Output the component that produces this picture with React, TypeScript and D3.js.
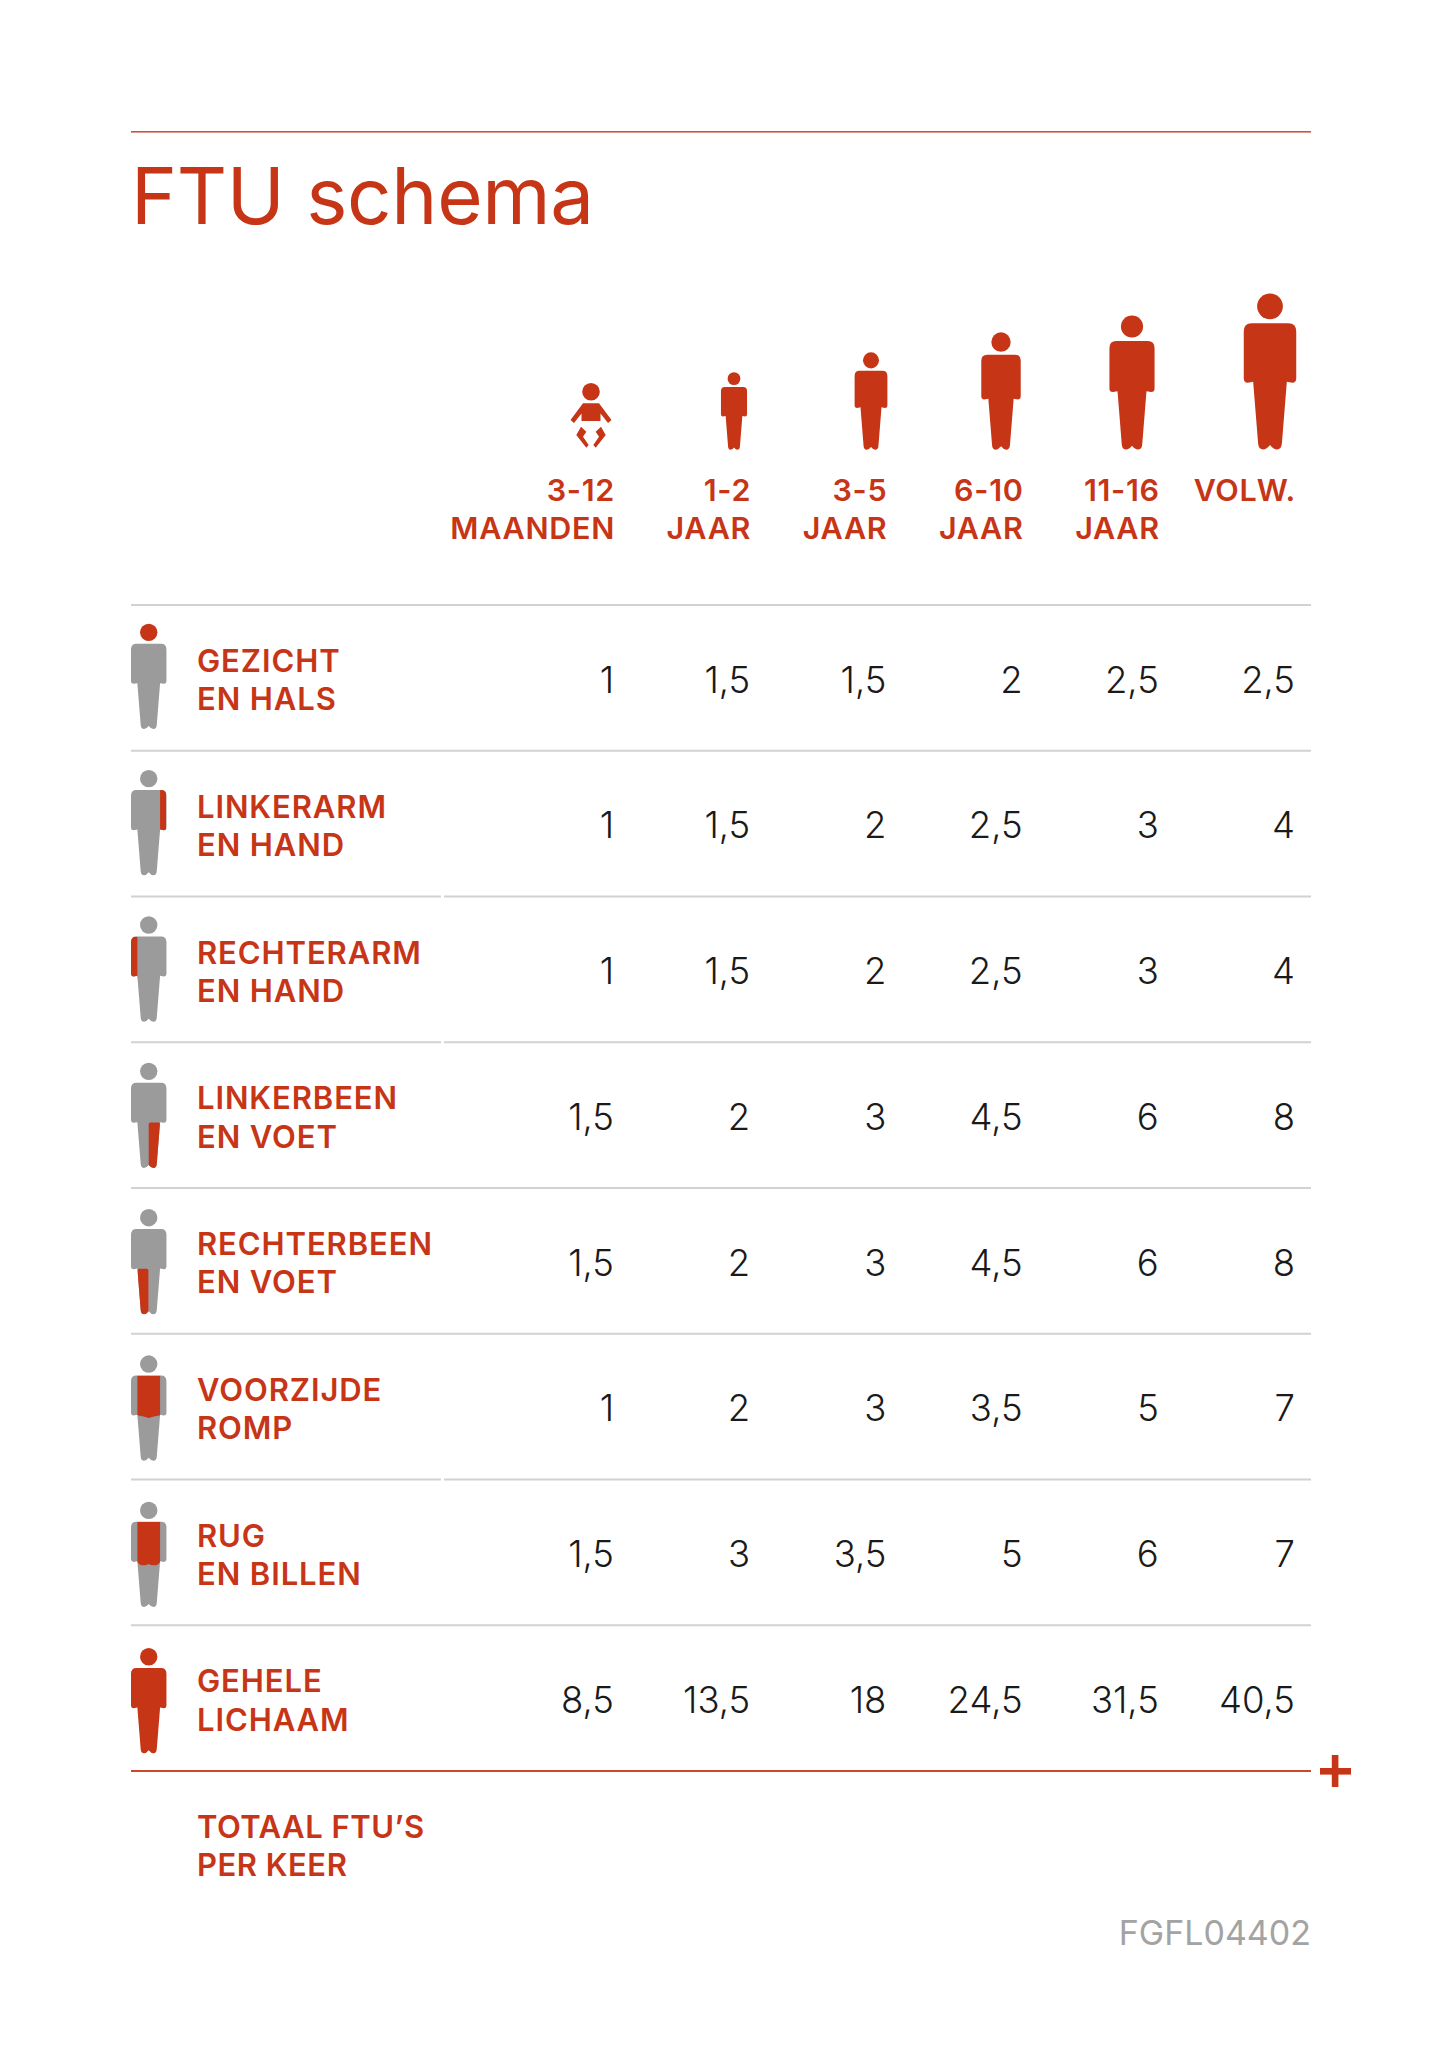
import * as d3 from "d3"

const RED = "#c73517"
const GREY = "#9b9b9b"
const RULE = "#d2d2d2"
const FONT = "Inter, 'Noto Sans', sans-serif"

const title = "FTU schema"
const code = "FGFL04402"
const ageLines = [["3-12", "MAANDEN"], ["1-2", "JAAR"], ["3-5", "JAAR"], ["6-10", "JAAR"], ["11-16", "JAAR"], ["VOLW."]]
const rowLines = [
  ["GEZICHT", "EN HALS"],
  ["LINKERARM", "EN HAND"],
  ["RECHTERARM", "EN HAND"],
  ["LINKERBEEN", "EN VOET"],
  ["RECHTERBEEN", "EN VOET"],
  ["VOORZIJDE", "ROMP"],
  ["RUG", "EN BILLEN"],
  ["GEHELE", "LICHAAM"],
]
const totalLines = ["TOTAAL FTU’S", "PER KEER"]
const gezicht = [1, 1.5, 1.5, 2, 2.5, 2.5]
const linkerarm = [1, 1.5, 2, 2.5, 3, 4]
const rechterarm = [1, 1.5, 2, 2.5, 3, 4]
const linkerbeen = [1.5, 2, 3, 4.5, 6, 8]
const rechterbeen = [1.5, 2, 3, 4.5, 6, 8]
const voorzijde = [1, 2, 3, 3.5, 5, 7]
const rug = [1.5, 3, 3.5, 5, 6, 7]
const gehele = [8.5, 13.5, 18, 24.5, 31.5, 40.5]
const rowValues = [gezicht, linkerarm, rechterarm, linkerbeen, rechterbeen, voorzijde, rug, gehele]
const highlights = ["head", "armR", "armL", "legR", "legL", "front", "back", "all"]

// figure drawn in a 106 x 317 box, scaled per use
const BODY =
  "M16,61 L90,61 Q106,61 106,78 L106,172 Q106,181 98,181 L87,179 L77,304 Q76,316 67,316 Q60,316 53,307 Q46,316 39,316 Q30,316 29,304 L19,179 L8,181 Q0,181 0,172 L0,78 Q0,61 16,61 Z"
const FRONT = "M19,61 L87,61 L87,180 Q70,183 60,186 Q53,190 46,186 Q36,183 19,180 Z"
const BACK = "M19,61 L87,61 L87,181 Q80,192 68,191 Q58,191 53,187 Q48,191 38,191 Q26,192 19,181 Z"

const BABY_ARMS = "M-8,403.3 L8,403.3 L20.5,420 L17,423 L9.5,413.5 L9.5,421 L-9.5,421 L-9.5,413.5 L-17,423 L-20.5,420 Z"
const BABY_LEG = "M-10,426.7 L-4.7,431.7 L-8,436.7 L-2.3,445 L-4.7,447.7 L-14.7,435 Z"

const x = d3.scalePoint<number>().domain(d3.range(ageLines.length)).range([614, 1295])
const rowY = d3.scaleBand<number>().domain(d3.range(rowLines.length)).range([605, 1771])
const iconY = d3.scalePoint<number>().domain(d3.range(rowLines.length)).range([623.3, 1647.7])
const unit = d3.scaleLinear().domain([0, 317]).range([0, 106])
const fmt = (v: number) => String(v).replace(".", ",")

function Figure({ left, top, height, part }: { left: number; top: number; height: number; part: string }) {
  const k = height / unit.domain()[1]
  const all = part === "all"
  const clipId = `body-${Math.round(top)}-${Math.round(left)}`
  return (
    <g transform={`translate(${left},${top}) scale(${k})`}>
      <clipPath id={clipId}>
        <path d={BODY} />
      </clipPath>
      <circle cx={53} cy={27} r={26} fill={all || part === "head" ? RED : GREY} />
      <path d={BODY} fill={all ? RED : GREY} />
      <g clipPath={`url(#${clipId})`} fill={RED}>
        {part === "armR" && <rect x={87} y={61} width={19} height={125} />}
        {part === "armL" && <rect x={0} y={61} width={19} height={125} />}
        {part === "legR" && <rect x={53} y={180} width={34} height={137} rx={5} />}
        {part === "legL" && <rect x={19} y={180} width={33} height={137} rx={5} />}
        {part === "front" && <path d={FRONT} />}
        {part === "back" && <path d={BACK} />}
      </g>
    </g>
  )
}

function Baby({ cx }: { cx: number }) {
  return (
    <g transform={`translate(${cx},0)`} fill={RED}>
      <circle cx={0} cy={391.7} r={8.8} />
      <path d={BABY_ARMS} />
      <path d={BABY_LEG} />
      <path d={BABY_LEG} transform="scale(-1,1)" />
    </g>
  )
}

// header figures: centre x and top, all standing on the same foot line
const FEET = 450
const headerCx = [591, 734, 871, 1001, 1132, 1270]
const headerTop = [384, 372, 352, 332, 315, 293]

export default function App() {
  return (
    <svg
      width={1442}
      height={2048}
      viewBox="0 0 1442 2048"
      style={{ position: "absolute", left: 0, top: 0, background: "#fff" }}
      fontFamily={FONT}
    >
      <rect x={131} y={131} width={1180} height={1.6} fill={RED} opacity={0.85} />
      <text x={131} y={224} fontSize={78} letterSpacing={-0.3} fill={RED} fontWeight={400}>
        {title}
      </text>

      {ageLines.map((lines, i) => (
        <g key={i}>
          {i === 0 ? (
            <Baby cx={headerCx[i]} />
          ) : (
            <Figure
              left={headerCx[i] - unit(FEET - headerTop[i]) / 2}
              top={headerTop[i]}
              height={FEET - headerTop[i]}
              part="all"
            />
          )}
          {lines.map((t, j) => (
            <text
              key={j}
              x={(x(i) as number) + 1}
              y={501 + j * 38}
              textAnchor="end"
              fontSize={30.5}
              fontWeight={600}
              letterSpacing={0.7}
              fill={RED}
            >
              {t}
            </text>
          ))}
        </g>
      ))}

      {rowLines.map((lines, i) => {
        const top = rowY(i) as number
        const gap = i === 2 || i === 3 || i === 6
        return (
          <g key={i}>
            <line x1={131} x2={gap ? 441 : 1311} y1={top} y2={top} stroke={RULE} strokeWidth={1.8} />
            {gap && <line x1={444} x2={1311} y1={top} y2={top} stroke={RULE} strokeWidth={1.8} />}
            <Figure left={131} top={iconY(i) as number} height={106} part={highlights[i]} />
            {lines.map((t, j) => (
              <text key={j} x={197} y={top + 67 + j * 38.3} fontSize={31} fontWeight={600} letterSpacing={0.9} fill={RED}>
                {t}
              </text>
            ))}
            {rowValues[i].map((v, c) => (
              <text key={c} x={x(c)} y={top + 87.5} textAnchor="end" fontSize={36.5} fontWeight={300} fill="#1a1a1a">
                {fmt(v)}
              </text>
            ))}
          </g>
        )
      })}

      <line x1={131} x2={1311} y1={1771} y2={1771} stroke={RED} strokeWidth={1.8} opacity={0.9} />
      <rect x={1320} y={1768} width={31} height={6.6} fill={RED} />
      <rect x={1331.8} y={1755} width={6.6} height={32} fill={RED} />

      {totalLines.map((t, j) => (
        <text key={j} x={197} y={1838 + j * 38} fontSize={31} fontWeight={600} letterSpacing={0.5} fill={RED}>
          {t}
        </text>
      ))}

      <text x={1311} y={1945} textAnchor="end" fontSize={34} fontWeight={400} fill="#a3a3a3">
        {code}
      </text>
    </svg>
  )
}
